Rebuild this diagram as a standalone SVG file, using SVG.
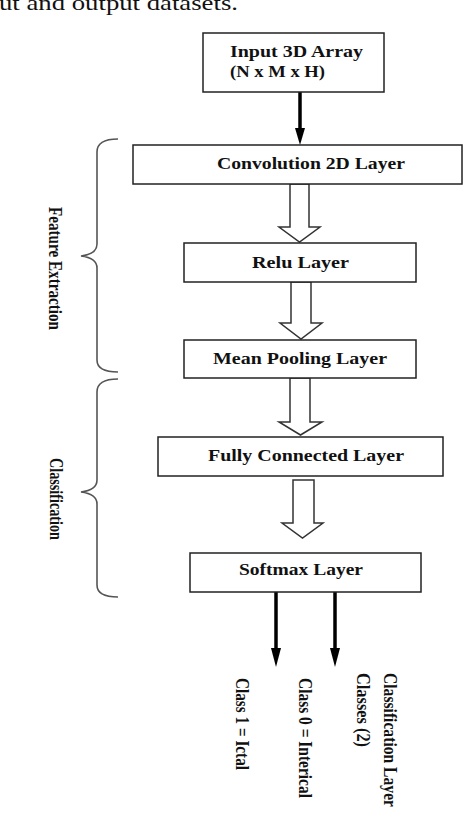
<svg xmlns="http://www.w3.org/2000/svg" width="466" height="824" viewBox="0 0 466 824">
<style>
.box{fill:#fff;stroke:#222;stroke-width:1.5}
.bt{font-family:"Liberation Serif","Times New Roman",serif;font-weight:bold;font-size:16px;fill:#111}
.rt{font-family:"Liberation Serif","Times New Roman",serif;font-weight:bold;font-size:18px;fill:#111}
.hollow{fill:#fff;stroke:#333;stroke-width:1.5;stroke-linejoin:miter}
.brace{fill:none;stroke:#555;stroke-width:1.6}
.blk{stroke:#000;stroke-width:3.5}
</style>
<rect width="466" height="824" fill="#fff"/>
<text x="-1" y="10" font-family="Liberation Serif,serif" font-size="21" fill="#111" textLength="239" lengthAdjust="spacingAndGlyphs">ut and output datasets.</text>

<g id="connectors">
  <line class="blk" x1="300" y1="92" x2="300" y2="130"/>
  <polygon points="295,128 305,128 300,145" fill="#000"/>
  <polygon class="hollow" points="290,184 309,184 309,227 320,227 299.5,242 279,227 290,227"/>
  <polygon class="hollow" points="291,282 311,282 311,323 322,323 301,339 280,323 291,323"/>
  <polygon class="hollow" points="290,378 310,378 310,422 322,422 300.5,435 279,422 290,422"/>
  <polygon class="hollow" points="293,480 314,480 314,523 323,523 302.5,538 282,523 293,523"/>
  <line class="blk" x1="276" y1="592" x2="276" y2="650"/>
  <polygon points="271,648 281,648 276,667" fill="#000"/>
  <line class="blk" x1="335" y1="592" x2="335" y2="650"/>
  <polygon points="330,648 340,648 335,667" fill="#000"/>
</g>

<g id="input">
  <rect class="box" x="203" y="33" width="181" height="59"/>
  <text class="bt" x="230" y="57" textLength="133" lengthAdjust="spacingAndGlyphs">Input 3D Array</text>
  <text class="bt" x="230" y="77" textLength="95" lengthAdjust="spacingAndGlyphs">(N x M x H)</text>
</g>
<g id="conv">
  <rect class="box" x="133" y="145" width="329" height="39"/>
  <text class="bt" x="217" y="169" textLength="188" lengthAdjust="spacingAndGlyphs">Convolution 2D Layer</text>
</g>
<g id="relu">
  <rect class="box" x="184" y="243" width="232" height="39"/>
  <text class="bt" x="252" y="268" textLength="97" lengthAdjust="spacingAndGlyphs">Relu Layer</text>
</g>
<g id="pool">
  <rect class="box" x="184" y="340" width="232" height="38"/>
  <text class="bt" x="213" y="364" textLength="174" lengthAdjust="spacingAndGlyphs">Mean Pooling Layer</text>
</g>
<g id="fc">
  <rect class="box" x="158" y="437" width="285" height="39"/>
  <text class="bt" x="208" y="461" textLength="196" lengthAdjust="spacingAndGlyphs">Fully Connected Layer</text>
</g>
<g id="softmax">
  <rect class="box" x="190" y="553" width="231" height="39"/>
  <text class="bt" x="239" y="575" textLength="124" lengthAdjust="spacingAndGlyphs">Softmax Layer</text>
</g>

<g id="brace-feature">
  <path class="brace" d="M118,139 Q97,139 97,152 L97,244 Q97,254 81,256 Q97,258 97,268 L97,360 Q97,372 118,372"/>
  <text class="rt" transform="translate(49,207) rotate(90)" textLength="123" lengthAdjust="spacingAndGlyphs">Feature Extraction</text>
</g>
<g id="brace-class">
  <path class="brace" d="M118,379 Q97,379 97,392 L97,480 Q97,490 81,492 Q97,494 97,504 L97,585 Q97,597 118,597"/>
  <text class="rt" transform="translate(50,458) rotate(90)" textLength="82" lengthAdjust="spacingAndGlyphs">Classification</text>
</g>

<g id="out-labels">
  <text class="rt" transform="translate(236,678) rotate(90)" textLength="92" lengthAdjust="spacingAndGlyphs">Class 1 = Ictal</text>
  <text class="rt" transform="translate(299,678) rotate(90)" textLength="120" lengthAdjust="spacingAndGlyphs">Class 0 = Interical</text>
  <text class="rt" transform="translate(384,673) rotate(90)" textLength="134" lengthAdjust="spacingAndGlyphs">Classification Layer</text>
  <text class="rt" transform="translate(357,673) rotate(90)" textLength="74" lengthAdjust="spacingAndGlyphs">Classes (2)</text>
</g>
</svg>
